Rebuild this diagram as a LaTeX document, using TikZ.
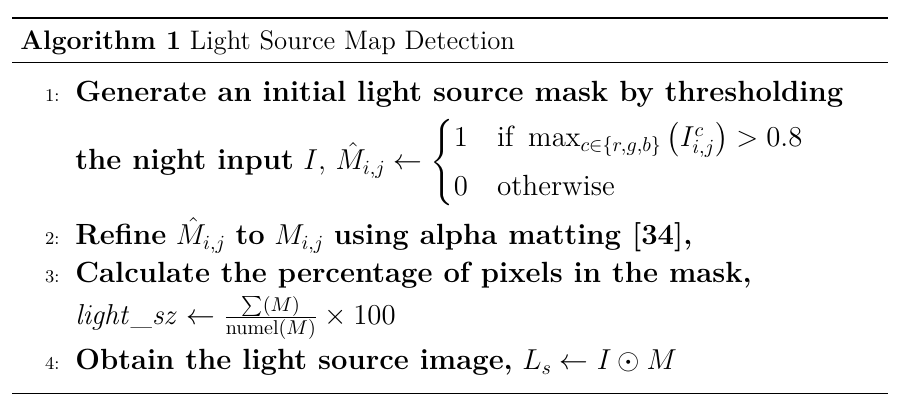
\documentclass[tikz,border=0pt]{standalone}
\usepackage{amsmath}
\begin{document}
\begin{tikzpicture}[x=1pt,y=1pt,
  txt/.style={anchor=base west,inner sep=0pt,font=\fontsize{14.6}{17}\selectfont},
  ttl/.style={anchor=base west,inner sep=0pt,font=\fontsize{13.4}{16}\selectfont},
  num/.style={anchor=base east,inner sep=0pt,font=\fontsize{9}{11}\selectfont},
  rulethick/.style={line width=0.8pt},
  rulethin/.style={line width=0.4pt}]
\useasboundingbox (0,0) rectangle (456,-207.5);
\draw[rulethick] (6,-9) -- (444,-9);
\draw[rulethin] (6,-31) -- (444,-31);
\draw[rulethin] (6,-196.5) -- (444,-196.5);
\node[ttl] (title) at (10,-25) {\textbf{Algorithm 1} Light Source Map Detection};
\node[num] (n1) at (30,-51) {1:};
\node[txt] (l1) at (37.5,-51) {\textbf{Generate an initial light source mask by thresholding}};
\node[txt] (l1b) at (37.5,-85) {\textbf{the night input} $I$, $\hat{M}_{i,j} \leftarrow \begin{cases}1 & \text{if } \max_{c\in\{r,g,b\}} \left(I^c_{i,j}\right) > 0.8\\[4pt] 0 & \text{otherwise}\end{cases}$};
\node[num] (n2) at (30,-122.5) {2:};
\node[txt] (l2) at (37.5,-122.5) {\textbf{Refine} $\hat{M}_{i,j}$ \textbf{to} $M_{i,j}$ \textbf{using alpha matting [34],}};
\node[num] (n3) at (30,-141.5) {3:};
\node[txt] (l3) at (37.5,-141.5) {\textbf{Calculate the percentage of pixels in the mask,}};
\node[txt] (l3b) at (37.5,-162.5) {$\mathit{light\_sz} \leftarrow \frac{\sum(M)}{\mathrm{numel}(M)} \times 100$};
\node[num] (n4) at (30,-185) {4:};
\node[txt] (l4) at (37.5,-185) {\textbf{Obtain the light source image,} $L_s \leftarrow I \odot M$};
\end{tikzpicture}
\end{document}
